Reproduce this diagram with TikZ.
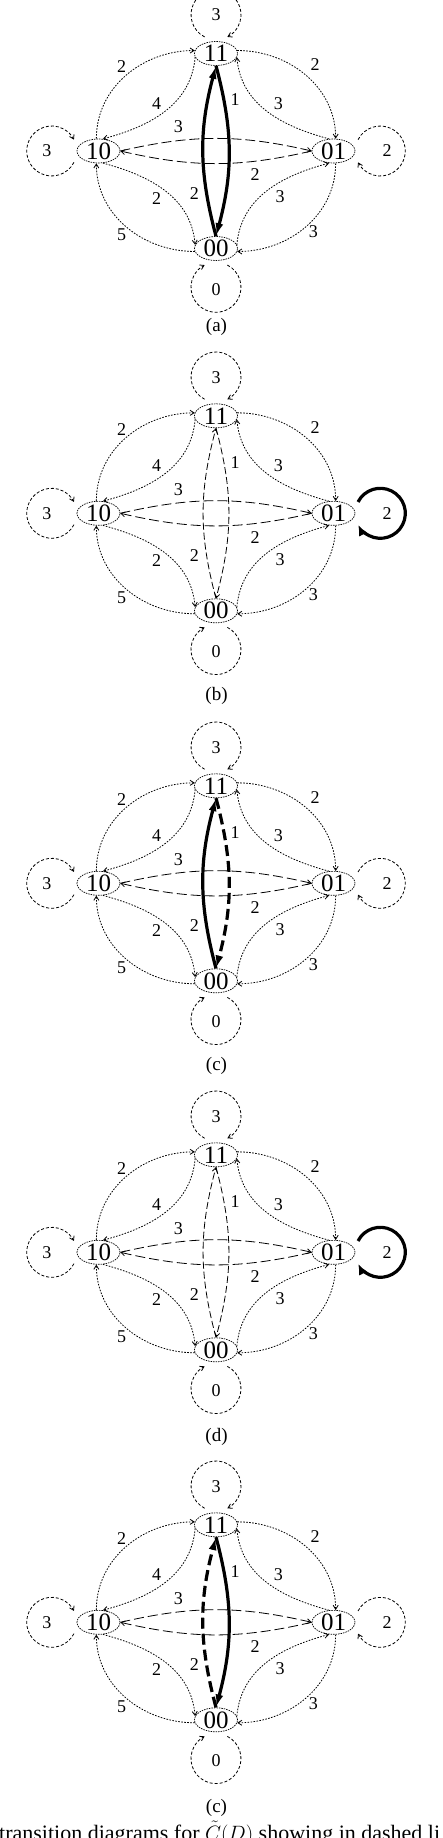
\documentclass[tikz,border=0pt]{standalone}
\usepackage{fontspec}
\setmainfont{Liberation Serif}
\usetikzlibrary{arrows.meta,shapes.geometric,positioning}

% one transition diagram: #1 name, #2 centre y, #3/#4 styles of the two
% vertical arcs (00->11, 11->00), #5 style of the self loop at 01
\newcommand{\statepanel}[5]{%
  \begin{scope}[shift={(216,#2)}]
    \node[st] (#1-11) at (0,97.5) {11};
    \node[st] (#1-10) at (-117.5,0) {10};
    \node[st] (#1-01) at (117.5,0) {01};
    \node[st] (#1-00) at (0,-97.5) {00};
    % self loops
    \draw[lp] (#1-11.north) ++(-11.35,4.2) arc[start angle=243, end angle=-63, radius=25pt];
    \draw[lp] (#1-10.west) ++(-2.7,-11.35) arc[start angle=333, end angle=27, radius=25pt];
    \draw[#5] (#1-01.east) ++(2.7,11.35) arc[start angle=153, end angle=-153, radius=25pt];
    \draw[lp] (#1-00.south) ++(11.35,-4.2) arc[start angle=63, end angle=-243, radius=25pt];
    \node[lab, above=20pt of #1-11.north] (#1-s11) {3};
    \node[lab, left=25pt of #1-10.west] (#1-s10) {3};
    \node[lab, right=27pt of #1-01.east] (#1-s01) {2};
    \node[lab, below=22pt of #1-00.south] (#1-s00) {0};
    % outer and inner arcs
    \draw[ar] (#1-10.100) to[out=90, in=180] (#1-11.172);
    \draw[ar] (#1-11.190) to[out=265, in=15] (#1-10.70);
    \draw[ar] (#1-11.8) to[out=0, in=90] (#1-01.80);
    \draw[ar] (#1-01.110) to[out=165, in=275] (#1-11.350);
    \draw[ar] (#1-00.188) to[out=180, in=270] (#1-10.260);
    \draw[ar] (#1-10.290) to[out=345, in=95] (#1-00.170);
    \draw[ar] (#1-01.280) to[out=270, in=0] (#1-00.352);
    \draw[ar] (#1-00.10) to[out=85, in=195] (#1-01.250);
    \draw[hz] (#1-10.east) to[bend left=13] (#1-01.west);
    \draw[hz] (#1-01.west) to[bend left=13] (#1-10.east);
    \draw[#3] (#1-00.north) to[bend left=15] (#1-11.south);
    \draw[#4] (#1-11.south) to[bend left=15] (#1-00.north);
    % weights
    \node[lab] (#1-w1) at (-94.3,84) {2};
    \node[lab] (#1-w2) at (-59.3,47.5) {4};
    \node[lab] (#1-w3) at (99,86) {2};
    \node[lab] (#1-w4) at (62.3,47.5) {3};
    \node[lab] (#1-w5) at (-94.3,-84) {5};
    \node[lab] (#1-w6) at (-59.3,-47.5) {2};
    \node[lab] (#1-w7) at (97.3,-81) {3};
    \node[lab] (#1-w8) at (64,-46) {3};
    \node[lab] (#1-w9) at (-37.7,24) {3};
    \node[lab] (#1-w10) at (39,-24) {2};
    \node[lab] (#1-w11) at (19,51) {1};
    \node[lab] (#1-w12) at (-21.7,-42.5) {2};
  \end{scope}}

\begin{document}
\begin{tikzpicture}[x=1pt, y=1pt,
    st/.style={ellipse, draw, line width=0.7pt, dash pattern=on 1.5pt off 1pt,
               minimum width=43pt, minimum height=24pt, inner sep=0pt,
               font=\fontsize{25}{25}\selectfont},
    lab/.style={inner sep=0pt, font=\fontsize{18}{18}\selectfont},
    plab/.style={inner sep=0pt, font=\fontsize{19}{19}\selectfont},
    tip/.style={-{Straight Barb[length=4pt,width=5pt]}, line width=0.8pt},
    ar/.style={tip, dash pattern=on 1.6pt off 1.4pt},
    hz/.style={tip, dash pattern=on 10pt off 4pt},
    vt/.style={tip, dash pattern=on 7pt off 3pt},
    lp/.style={tip, dash pattern=on 3pt off 2pt},
    chosen/.style={-{Latex[length=13pt,width=8pt]}, line width=3.2pt},
    chosendash/.style={chosen, dash pattern=on 11pt off 5pt},
    chosenloop/.style={-{Latex[length=11pt,width=9pt]}, line width=3.2pt}
]
\useasboundingbox (0,0) rectangle (442,-1838);
\clip (0,0) rectangle (442,-1838);

\statepanel{a}{-151}{chosen}{chosen}{lp}
\statepanel{b}{-513.3}{vt}{vt}{chosenloop}
\statepanel{c}{-883.3}{chosen}{chosendash}{lp}
\statepanel{d}{-1252.3}{vt}{vt}{chosenloop}
\statepanel{e}{-1622.3}{chosendash}{chosen}{lp}

\node[plab] (pa) at (216.5,-326.7) {(a)};
\node[plab] (pb) at (216.5,-696) {(b)};
\node[plab] (pc) at (216.5,-1066) {(c)};
\node[plab] (pd) at (216.5,-1436.5) {(d)};
\node[plab] (pe) at (216.5,-1808) {(c)};

\node[anchor=base west, inner sep=0pt, font=\fontsize{22}{22}\selectfont] (cap) at (-1,-1840)
  {transition diagrams for $\tilde{C}(D)$ showing in dashed li};
\end{tikzpicture}
\end{document}
